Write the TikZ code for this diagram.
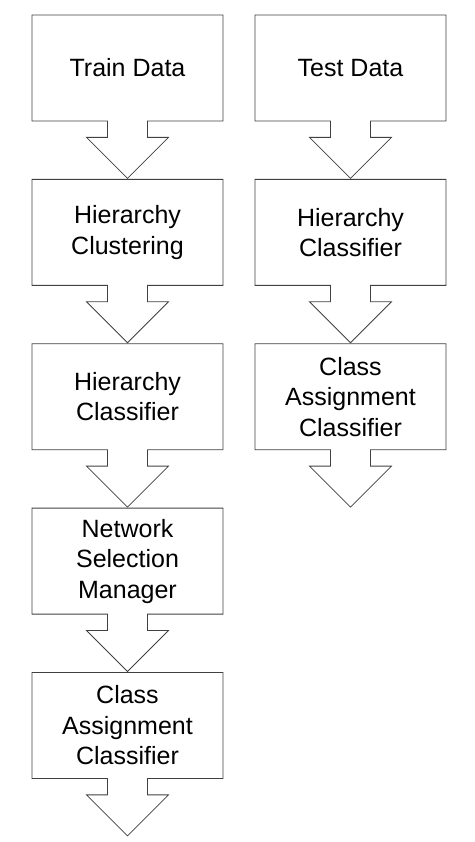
\documentclass[tikz,border=0pt]{standalone}
\usepackage{fontspec}
\setmainfont{Liberation Sans}
\usepackage{tikz}
\usetikzlibrary{positioning,shapes.arrows}

\begin{document}
\begin{tikzpicture}[
  node distance=0pt,
  every node/.style={draw=black!75,line width=0.8pt,align=center,
    font=\fontsize{25pt}{30.5pt}\selectfont,inner sep=0pt,
    minimum width=191pt,minimum height=106pt},
  stagebox/.style={arrow box,arrow box arrows={south:57pt from border},
    arrow box shaft width=40pt,arrow box head extend=21pt,
    arrow box tip angle=90}
]
\useasboundingbox (0,0) rectangle (474pt,-842pt);
% training side
\node[stagebox] (train) at (127.5pt,-68pt) {Train Data};
\node[stagebox,below=of train] (clust) {Hierarchy\\Clustering};
\node[stagebox,below=of clust] (hclass) {Hierarchy\\Classifier};
\node[stagebox,below=of hclass] (netsel) {Network\\Selection\\Manager};
\node[stagebox,below=of netsel] (assign) {Class\\Assignment\\Classifier};
% test side
\node[stagebox] (test) at (350.5pt,-68pt) {Test Data};
\node[stagebox,below=of test] (thclass) {Hierarchy\\Classifier};
\node[stagebox,below=of thclass] (tassign) {Class\\Assignment\\Classifier};
\end{tikzpicture}
\end{document}
